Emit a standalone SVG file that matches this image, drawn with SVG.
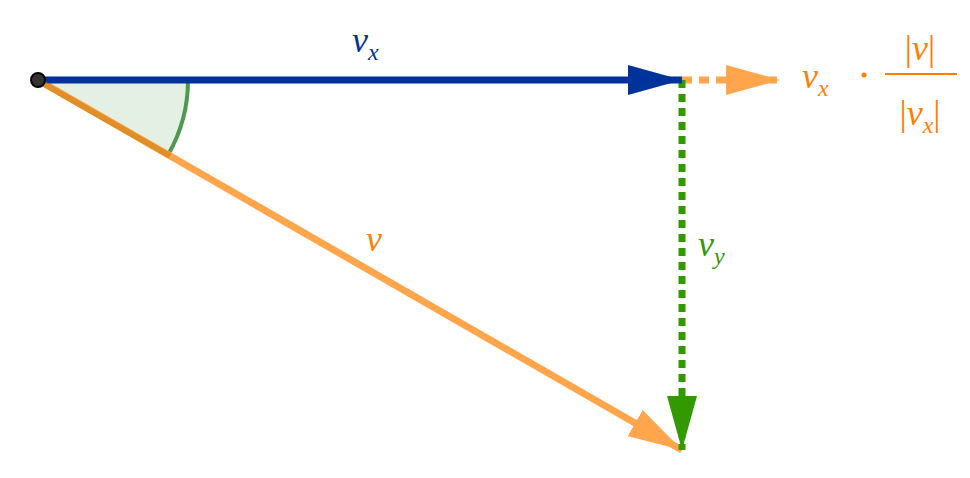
<svg xmlns="http://www.w3.org/2000/svg" width="970" height="478" viewBox="0 0 970 478">
<style>
.t{font-family:"Liberation Serif",serif;font-style:italic;font-size:36px}
.s{font-size:24px}
</style>
<defs>
<marker id="ao" markerWidth="54" markerHeight="30" refX="54" refY="15" orient="auto" markerUnits="userSpaceOnUse"><path d="M0,0L54,15L0,30Z" fill="#ffa64d"/></marker>
<marker id="ab" markerWidth="54" markerHeight="30" refX="54" refY="15" orient="auto" markerUnits="userSpaceOnUse"><path d="M0,0L54,15L0,30Z" fill="#003399"/></marker>
<marker id="ag" markerWidth="54" markerHeight="30" refX="54" refY="15" orient="auto" markerUnits="userSpaceOnUse"><path d="M0,0L54,15L0,30Z" fill="#339900"/></marker>
</defs>
<g id="angle"><path d="M38,80L188,80A150,150 0 0 1 168,155Z" fill="#e5f0e5"/><path d="M188,80A150,150 0 0 1 168,155" fill="none" stroke="#4d9950" stroke-width="4"/></g>
<g id="connectors">
<line x1="38" y1="80" x2="682" y2="450" stroke="#ffa64d" stroke-width="7" marker-end="url(#ao)"/>
<line x1="682" y1="80" x2="780" y2="80" stroke="#ffa64d" stroke-width="7" stroke-dasharray="10,7" marker-end="url(#ao)"/>
<line x1="682" y1="80" x2="682" y2="450" stroke="#339900" stroke-width="7" stroke-dasharray="8,6" marker-end="url(#ag)"/>
<line x1="38" y1="80" x2="682" y2="80" stroke="#003399" stroke-width="7" marker-end="url(#ab)"/>
<line x1="44" y1="84" x2="170" y2="156" stroke="#cc8010" stroke-width="6" opacity="0.6"/>
</g>
<g id="origin"><circle cx="38" cy="80" r="7" fill="#333" stroke="#000" stroke-width="2"/></g>
<g id="labels">
<text class="t" x="352" y="52" fill="#003399">v<tspan class="s" dy="8">x</tspan></text>
<text class="t" x="366" y="251" fill="#ff8000">v</text>
<text class="t" x="698" y="256" fill="#339900">v<tspan class="s" dy="8">y</tspan></text>
<text class="t" x="802" y="88" fill="#ff8000">v<tspan class="s" dy="8">x</tspan></text>
<circle cx="864" cy="75" r="2.5" fill="#ff8000"/>
<line x1="885" y1="74" x2="957" y2="74" stroke="#ff8000" stroke-width="2"/>
<text class="t" x="920" y="60" fill="#ff8000" text-anchor="middle" style="font-style:normal">|<tspan style="font-style:italic">v</tspan>|</text>
<text class="t" x="920" y="125" fill="#ff8000" text-anchor="middle" style="font-style:normal">|<tspan style="font-style:italic">v</tspan><tspan class="s" dy="8" style="font-style:italic">x</tspan><tspan dy="-8">|</tspan></text>
</g>
</svg>
